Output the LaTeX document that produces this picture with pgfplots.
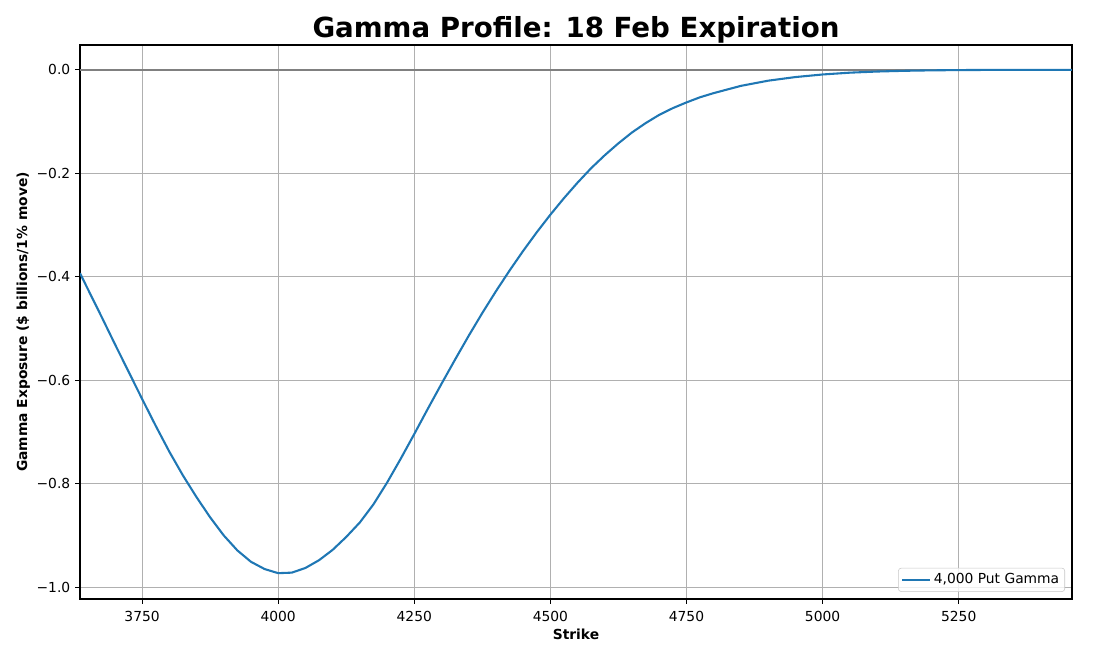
\documentclass[border=0pt]{standalone}
\usepackage{fontspec}
\setmainfont{DejaVu Sans}
\usepackage{pgfplots}
\pgfplotsset{compat=1.18}
\usetikzlibrary{calc}
\definecolor{mplblue}{HTML}{1F77B4}
\definecolor{gridgray}{HTML}{B0B0B0}

\pgfplotstableread{
strike gamma
3636 -0.393
3650 -0.423
3675 -0.476
3700 -0.530
3725 -0.583
3750 -0.636
3775 -0.688
3800 -0.738
3825 -0.784
3850 -0.826
3875 -0.865
3900 -0.900
3925 -0.929
3950 -0.951
3975 -0.965
4000 -0.973
4025 -0.972
4050 -0.963
4075 -0.948
4100 -0.928
4125 -0.903
4150 -0.875
4175 -0.840
4200 -0.798
4225 -0.752
4250 -0.704
4275 -0.655
4300 -0.607
4325 -0.560
4350 -0.514
4375 -0.470
4400 -0.428
4425 -0.388
4450 -0.350
4475 -0.314
4500 -0.280
4525 -0.248
4550 -0.218
4575 -0.190
4600 -0.165
4625 -0.142
4650 -0.121
4675 -0.103
4700 -0.087
4725 -0.074
4750 -0.063
4775 -0.053
4800 -0.045
4850 -0.031
4900 -0.021
4950 -0.014
5000 -0.009
5050 -0.0055
5100 -0.0033
5150 -0.0019
5200 -0.0010
5250 -0.0005
5300 -0.0002
5350 -0.0001
5400 0
5458 0
}\gammatable

\begin{document}
\begin{tikzpicture}
\begin{axis}[
    scale only axis,
    width=714.2bp, height=398.9bp,
    xmin=3636, xmax=5458,
    ymin=-1.023, ymax=0.048,
    xtick={3750,4000,4250,4500,4750,5000,5250},
    xticklabels={3750,4000,4250,4500,4750,5000,5250},
    ytick={-1,-0.8,-0.6,-0.4,-0.2,0},
    yticklabels={−1.0,−0.8,−0.6,−0.4,−0.2,0.0},
    tick label style={font=\fontsize{10}{12}\selectfont},
    xticklabel style={yshift=-2bp},
    tick align=outside,
    tick pos=left,
    major tick length=3.5bp,
    every tick/.style={black, line width=0.8bp},
    grid=major,
    major grid style={gridgray, line width=0.8bp},
    axis line style={black, line width=0.8bp},
    title={\bfseries Gamma Profile: 18 Feb Expiration},
    title style={font=\fontsize{20}{24}\selectfont, yshift=-8bp},
    xlabel={\bfseries Strike},
    ylabel={\bfseries Gamma Exposure (\$ billions/1\% move)},
    label style={font=\fontsize{10}{12}\selectfont},
    xlabel style={yshift=2bp},
    ylabel style={yshift=-2bp},
    legend style={font=\fontsize{10}{12}\selectfont, draw=gridgray!70, rounded corners=2bp, fill=white, fill opacity=0.8, text opacity=1, inner sep=2bp, at={(0.993,0.013)}, anchor=south east},
    legend cell align=left,
    legend image code/.code={\draw[#1, line width=1.5bp] (0bp,0bp) -- (20bp,0bp);},
]
\addplot[gray, line width=1bp, forget plot] coordinates {(3636,0) (5458,0)};
\addplot[mplblue, line width=1.5bp] table[x=strike, y=gamma] {\gammatable};
\addlegendentry{4,000 Put Gamma}
\coordinate (A) at (rel axis cs:0,0);
\coordinate (B) at (rel axis cs:1,1);
\end{axis}
\pgfresetboundingbox
\path[use as bounding box] ($(A)+(-57.6bp,-36.7bp)$) rectangle ($(B)+(16.6bp,32.4bp)$);
\end{tikzpicture}
\end{document}
